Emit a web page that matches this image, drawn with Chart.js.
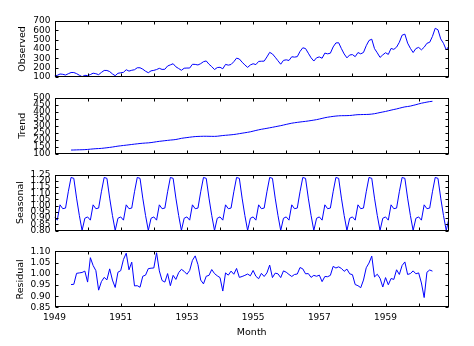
<!doctype html>
<html lang="en">
  <head>
    <meta charset="utf-8">
    <title>Seasonal decomposition</title>
    <style>
      * { margin: 0; padding: 0; }
      body { background: #fff; width: 474px; height: 346px; overflow: hidden; }
      canvas { position: absolute; left: 0; top: 0; }
    </style>
  </head>
  <body>
    <canvas id="cObserved" width="474" height="346"></canvas>
    <canvas id="cTrend" width="474" height="346"></canvas>
    <canvas id="cSeasonal" width="474" height="346"></canvas>
    <canvas id="cResidual" width="474" height="346"></canvas>

    <script src="https://cdn.jsdelivr.net/npm/chart.js@4.4.0/dist/chart.umd.min.js"></script>
    <script>
    // data block: monthly values, Jan 1949 .. Dec 1960 (one row per year)
    const startYear = 1949;
    const xTickYears = [1949, 1950, 1951, 1952, 1953, 1954, 1955, 1956, 1957, 1958, 1959, 1960];

    const observed = [
      112, 118, 132, 129, 121, 135, 148, 148, 136, 119, 104, 118,
      115, 126, 141, 135, 125, 149, 170, 170, 158, 133, 114, 140,
      145, 150, 178, 163, 172, 178, 199, 199, 184, 162, 146, 166,
      171, 180, 193, 181, 183, 218, 230, 242, 209, 191, 172, 194,
      196, 196, 236, 235, 229, 243, 264, 272, 237, 211, 180, 201,
      204, 188, 235, 227, 234, 264, 302, 293, 259, 229, 203, 229,
      242, 233, 267, 269, 270, 315, 364, 347, 312, 274, 237, 278,
      284, 277, 317, 313, 318, 374, 413, 405, 355, 306, 271, 306,
      315, 301, 356, 348, 355, 422, 465, 467, 404, 347, 305, 336,
      340, 318, 362, 348, 363, 435, 491, 505, 404, 359, 310, 337,
      360, 342, 406, 396, 420, 472, 548, 559, 463, 407, 362, 405,
      417, 391, 419, 461, 472, 535, 622, 606, 508, 461, 390, 432
    ];

    const trend = [
      null, null, null, null, null, null, 126.79, 127.25, 127.96, 128.58, 129.00, 129.75,
      131.25, 133.08, 134.92, 136.42, 137.42, 138.75, 140.92, 143.17, 145.71, 148.42, 151.54, 154.71,
      157.13, 159.54, 161.83, 164.13, 166.67, 169.08, 171.25, 173.58, 175.46, 176.83, 178.04, 180.17,
      183.13, 186.21, 189.04, 191.29, 193.58, 195.83, 198.04, 199.75, 202.21, 206.25, 210.42, 213.38,
      215.83, 218.50, 220.92, 222.92, 224.08, 224.71, 225.33, 225.33, 224.96, 224.58, 224.46, 225.54,
      228.00, 230.46, 232.25, 233.92, 235.63, 237.75, 240.50, 243.96, 247.17, 250.25, 253.50, 257.13,
      261.83, 266.67, 271.13, 275.21, 278.50, 281.96, 285.75, 289.33, 293.25, 297.17, 301.00, 305.46,
      309.96, 314.42, 318.63, 321.75, 324.50, 327.08, 329.54, 331.83, 334.46, 337.54, 340.54, 344.08,
      348.25, 353.00, 357.63, 361.38, 364.50, 367.17, 369.46, 371.21, 372.17, 372.42, 372.75, 373.63,
      375.25, 377.92, 379.50, 380.00, 380.71, 380.96, 381.83, 383.67, 386.50, 390.33, 394.71, 398.63,
      402.54, 407.17, 411.88, 416.33, 420.50, 425.50, 430.71, 435.13, 437.71, 440.96, 445.83, 450.63,
      456.33, 461.38, 465.21, 469.33, 472.75, 475.04, null, null, null, null, null, null
    ];

    const seasonal = [
      0.910, 0.884, 1.007, 0.976, 0.981, 1.112, 1.227, 1.220, 1.061, 0.922, 0.801, 0.899,
      0.910, 0.884, 1.007, 0.976, 0.981, 1.112, 1.227, 1.220, 1.061, 0.922, 0.801, 0.899,
      0.910, 0.884, 1.007, 0.976, 0.981, 1.112, 1.227, 1.220, 1.061, 0.922, 0.801, 0.899,
      0.910, 0.884, 1.007, 0.976, 0.981, 1.112, 1.227, 1.220, 1.061, 0.922, 0.801, 0.899,
      0.910, 0.884, 1.007, 0.976, 0.981, 1.112, 1.227, 1.220, 1.061, 0.922, 0.801, 0.899,
      0.910, 0.884, 1.007, 0.976, 0.981, 1.112, 1.227, 1.220, 1.061, 0.922, 0.801, 0.899,
      0.910, 0.884, 1.007, 0.976, 0.981, 1.112, 1.227, 1.220, 1.061, 0.922, 0.801, 0.899,
      0.910, 0.884, 1.007, 0.976, 0.981, 1.112, 1.227, 1.220, 1.061, 0.922, 0.801, 0.899,
      0.910, 0.884, 1.007, 0.976, 0.981, 1.112, 1.227, 1.220, 1.061, 0.922, 0.801, 0.899,
      0.910, 0.884, 1.007, 0.976, 0.981, 1.112, 1.227, 1.220, 1.061, 0.922, 0.801, 0.899,
      0.910, 0.884, 1.007, 0.976, 0.981, 1.112, 1.227, 1.220, 1.061, 0.922, 0.801, 0.899,
      0.910, 0.884, 1.007, 0.976, 0.981, 1.112, 1.227, 1.220, 1.061, 0.922, 0.801, 0.899
    ];

    const residual = [
      null, null, null, null, null, null, 0.952, 0.953, 1.002, 1.004, 1.006, 1.012,
      0.963, 1.072, 1.037, 1.014, 0.927, 0.965, 0.984, 0.973, 1.022, 0.972, 0.939, 1.007,
      1.014, 1.064, 1.092, 1.018, 1.052, 0.946, 0.947, 0.940, 0.989, 0.994, 1.023, 1.025,
      1.026, 1.094, 1.013, 0.970, 0.963, 1.001, 0.947, 0.993, 0.975, 1.005, 1.020, 1.011,
      0.998, 1.015, 1.060, 1.080, 1.041, 0.972, 0.955, 0.989, 0.993, 1.019, 1.001, 0.991,
      0.983, 0.923, 1.004, 0.994, 1.012, 0.998, 1.024, 0.984, 0.988, 0.993, 0.999, 0.991,
      1.015, 0.989, 0.978, 1.002, 0.988, 1.004, 1.039, 0.983, 1.003, 1.000, 0.983, 1.013,
      1.007, 0.997, 0.988, 0.997, 0.999, 1.028, 1.022, 1.000, 1.001, 0.984, 0.993, 0.989,
      0.994, 0.965, 0.988, 0.987, 0.993, 1.033, 1.026, 1.031, 1.024, 1.011, 1.021, 1.000,
      0.996, 0.952, 0.947, 0.938, 0.972, 1.027, 1.048, 1.079, 0.986, 0.998, 0.980, 0.941,
      0.983, 0.951, 0.979, 0.975, 1.018, 0.997, 1.037, 1.053, 0.997, 1.001, 1.013, 1.000,
      1.004, 0.959, 0.894, 1.007, 1.017, 1.012, null, null, null, null, null, null
    ];

    // panels: label, values, y range, tick step, decimals
    const panels = [
      { id: 'cObserved', label: 'Observed', values: observed, min: 100, max: 700, step: 100, dec: 0 },
      { id: 'cTrend', label: 'Trend', values: trend, min: 100, max: 500, step: 50, dec: 0 },
      { id: 'cSeasonal', label: 'Seasonal', values: seasonal, min: 0.80, max: 1.25, step: 0.05, dec: 2 },
      { id: 'cResidual', label: 'Residual', values: residual, min: 0.85, max: 1.10, step: 0.05, dec: 2 }
    ];

    // layout block
    const W = 474, H = 346;
    const plotLeft = 54.5, plotRight = 449;
    const firstTop = 21, panelStep = 76.8, panelH = 56;

    Chart.defaults.font.family = "'DejaVu Sans', sans-serif";
    Chart.defaults.font.size = 9;
    Chart.defaults.color = '#000';

    // matplotlib style frame with inward ticks on all four sides
    const mplAxes = {
      id: 'mplAxes',
      afterDraw: (chart) => {
        const { ctx, chartArea: { left, right, top, bottom }, scales: { x, y } } = chart;
        const L = Math.round(left) + 0.5, R = Math.round(right) - 0.5;
        const T = Math.round(top) + 0.5, B = Math.round(bottom) - 0.5;
        const tl = 3;
        ctx.save();
        ctx.strokeStyle = '#000';
        ctx.lineWidth = 1;
        ctx.beginPath();
        y.ticks.forEach(t => {
          const py = Math.round(y.getPixelForValue(t.value)) + 0.5;
          ctx.moveTo(L, py); ctx.lineTo(L + tl, py);
          ctx.moveTo(R, py); ctx.lineTo(R - tl, py);
        });
        xTickYears.forEach(v => {
          const px = Math.round(x.getPixelForValue(v)) + 0.5;
          ctx.moveTo(px, T); ctx.lineTo(px, T + tl);
          ctx.moveTo(px, B); ctx.lineTo(px, B - tl);
        });
        ctx.stroke();
        ctx.strokeRect(L, T, R - L, B - T);
        ctx.restore();
      }
    };

    const xMax = startYear + (observed.length - 1) / 12;

    panels.forEach((p, i) => {
      const isBottom = i === panels.length - 1;
      const top = firstTop + panelStep * i;
      const xAxisH = isBottom ? H - (top + panelH) : 0;
      const points = p.values.map((v, k) => ({ x: startYear + k / 12, y: v }));

      new Chart(document.getElementById(p.id), {
        type: 'line',
        data: {
          datasets: [{
            data: points,
            borderColor: '#0000ff',
            borderWidth: 1,
            pointRadius: 0,
            tension: 0,
            fill: false,
            spanGaps: false
          }]
        },
        options: {
          responsive: false,
          animation: false,
          events: [],
          layout: {
            padding: { left: 0, right: W - plotRight, top: top, bottom: isBottom ? 0 : H - (top + panelH) }
          },
          plugins: { legend: { display: false }, tooltip: { enabled: false } },
          scales: {
            x: {
              type: 'linear',
              min: startYear,
              max: xMax,
              display: isBottom,
              afterFit: (s) => { s.height = xAxisH; },
              grid: { display: false, drawTicks: false },
              border: { display: false },
              ticks: {
                stepSize: 1,
                includeBounds: false,
                autoSkip: false,
                maxRotation: 0,
                padding: 5,
                callback: (v) => (Number.isInteger(v) && v % 2 === 1 ? String(v) : '')
              },
              title: { display: true, text: 'Month', font: { size: 9.5 }, padding: { top: 0, bottom: 8 } }
            },
            y: {
              min: p.min,
              max: p.max,
              afterFit: (s) => { s.width = plotLeft; },
              grid: { display: false, drawTicks: false },
              border: { display: false },
              ticks: {
                stepSize: p.step,
                autoSkip: false,
                padding: 4,
                callback: (v) => Number(v).toFixed(p.dec)
              },
              title: {
                display: true,
                text: p.label,
                font: { size: 9.5 },
                padding: { top: p.dec ? 15 : 17, bottom: 0 }
              }
            }
          }
        },
        plugins: [mplAxes]
      });
    });
    </script>
  </body>
</html>
